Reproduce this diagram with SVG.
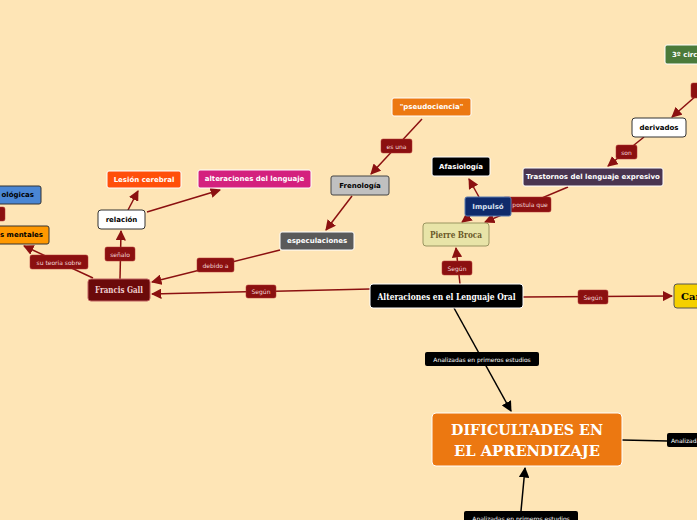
<svg xmlns="http://www.w3.org/2000/svg" width="697" height="520" viewBox="0 0 697 520">
<defs>
<marker id="ar" viewBox="0 0 10 10" refX="9" refY="5" markerWidth="7" markerHeight="7" orient="auto-start-reverse"><path d="M0,0L10,5L0,10z" fill="#8b1010"/></marker>
<marker id="ab" viewBox="0 0 10 10" refX="9" refY="5" markerWidth="7" markerHeight="7" orient="auto-start-reverse"><path d="M0,0L10,5L0,10z" fill="#000"/></marker>
<style>
.n{stroke:#fff;stroke-width:1}
.t{font-family:"DejaVu Sans",sans-serif;font-weight:bold;font-size:7px;text-anchor:middle;dominant-baseline:central}
.l{fill:#8b1010;stroke:#b03030;stroke-width:.5}
.lt{font-family:"DejaVu Sans",sans-serif;font-size:6px;fill:#f3d8d8;text-anchor:middle;dominant-baseline:central}
.c{stroke:#8b1010;stroke-width:1.5;fill:none}
.k{stroke:#000;stroke-width:1.5;fill:none}
.s{font-family:"DejaVu Serif",serif;font-weight:bold;text-anchor:middle;dominant-baseline:central}
</style>
</defs>
<rect width="697" height="520" fill="#fee5b6"/>
<g id="connectors">
<line class="c" x1="370" y1="289" x2="152" y2="294" marker-end="url(#ar)"/>
<line class="c" x1="460" y1="284" x2="456" y2="248" marker-end="url(#ar)"/>
<line class="c" x1="523" y1="297" x2="672" y2="296" marker-end="url(#ar)"/>
<line class="k" x1="454" y1="308" x2="511" y2="411" marker-end="url(#ab)"/>
<line class="k" x1="622" y1="440" x2="668" y2="441"/>
<line class="k" x1="521" y1="511" x2="525" y2="468" marker-end="url(#ab)"/>
<line class="c" x1="479" y1="197" x2="469" y2="179" marker-end="url(#ar)"/>
<line class="c" x1="470" y1="216" x2="462" y2="222" marker-end="url(#ar)"/>
<line class="c" x1="568" y1="187" x2="485" y2="222" marker-end="url(#ar)"/>
<line class="c" x1="644" y1="137" x2="608" y2="166" marker-end="url(#ar)"/>
<line class="c" x1="697" y1="95" x2="672" y2="117" marker-end="url(#ar)"/>
<line class="c" x1="422" y1="119" x2="371" y2="174" marker-end="url(#ar)"/>
<line class="c" x1="352" y1="196" x2="326" y2="230" marker-end="url(#ar)"/>
<line class="c" x1="280" y1="250" x2="152" y2="282" marker-end="url(#ar)"/>
<line class="c" x1="120" y1="279" x2="121" y2="231" marker-end="url(#ar)"/>
<line class="c" x1="128" y1="210" x2="138" y2="191" marker-end="url(#ar)"/>
<line class="c" x1="147" y1="212" x2="220" y2="190" marker-end="url(#ar)"/>
<line class="c" x1="93" y1="278" x2="24" y2="246" marker-end="url(#ar)"/>
</g>
<g id="labels">
<rect class="l" x="246" y="285" width="30" height="13" rx="2"/><text class="lt" x="261" y="291.5">Según</text>
<rect class="l" x="442" y="261" width="30" height="14" rx="2"/><text class="lt" x="457" y="268">Según</text>
<rect class="l" x="578" y="290" width="30" height="14" rx="2"/><text class="lt" x="593" y="297">Según</text>
<rect class="l" x="503" y="197" width="48" height="15" rx="2"/><text class="lt" x="530" y="204.5">postula que</text>
<rect class="l" x="616" y="145" width="21" height="14" rx="2"/><text class="lt" x="626.5" y="152">son</text>
<rect class="l" x="691" y="83" width="10" height="15" rx="2"/>
<rect class="l" x="381" y="139" width="31" height="14" rx="2"/><text class="lt" x="396.5" y="146">es una</text>
<rect class="l" x="197" y="258" width="37" height="14" rx="2"/><text class="lt" x="215.5" y="265">debido a</text>
<rect class="l" x="105" y="247" width="30" height="14" rx="2"/><text class="lt" x="120" y="254">señalo</text>
<rect class="l" x="30" y="255" width="58" height="14" rx="2"/><text class="lt" x="59" y="262">su teoria sobre</text>
<rect class="l" x="-5" y="207" width="10" height="14" rx="2"/>
<rect x="425" y="352" width="114" height="14" rx="2" fill="#000"/><text class="lt" x="482" y="359" style="fill:#fff">Analizadas en primeros estudios</text>
<rect x="667" y="433" width="40" height="14" rx="2" fill="#000"/><text class="lt" x="671" y="440" style="text-anchor:start;fill:#fff">Analizadas</text>
<rect x="464" y="511" width="114" height="14" rx="2" fill="#000"/><text class="lt" x="521" y="518" style="fill:#fff">Analizadas en primeros estudios</text>
</g>
<g id="main"><rect x="370" y="284" width="153" height="24" rx="3" fill="#000" class="n"/><text class="s" x="446.5" y="296" font-size="10" fill="#fff" textLength="138" lengthAdjust="spacingAndGlyphs">Alteraciones en el Lenguaje Oral</text></g>
<g id="gall"><rect x="88" y="279" width="62" height="22" rx="3" fill="#6b0a0a" stroke="#c06060"/><text class="s" x="119" y="290" font-size="9" fill="#f0d0d0" textLength="48" lengthAdjust="spacingAndGlyphs">Francis Gall</text></g>
<g id="broca"><rect x="423" y="223" width="66" height="23" rx="3" fill="#e8e4a8" stroke="#9a9560"/><text class="s" x="456" y="234.5" font-size="9" fill="#6b5a2a" textLength="52" lengthAdjust="spacingAndGlyphs">Pierre Broca</text></g>
<g id="carl"><rect x="674" y="284" width="40" height="24" rx="3" fill="#f5d000" stroke="#555"/><text class="s" x="681" y="296" font-size="10" fill="#000" style="text-anchor:start">Carl</text></g>
<g id="dificultades"><rect x="432" y="413" width="190" height="53" rx="4" fill="#ec7811" class="n"/><text class="s" x="527" y="430" font-size="15" fill="#fff" textLength="152" lengthAdjust="spacingAndGlyphs">DIFICULTADES EN</text><text class="s" x="527" y="451" font-size="15" fill="#fff" textLength="146" lengthAdjust="spacingAndGlyphs">EL APRENDIZAJE</text></g>
<g id="impulso"><rect x="465" y="197" width="46" height="19" rx="2" fill="#0f2a6b" stroke="#5a7ab0"/><text class="t" x="488" y="206.5" fill="#d8e0f0">Impulsó</text></g>
<g id="afasiologia"><rect x="432" y="157" width="58" height="19" rx="2" fill="#000" class="n"/><text class="t" x="461" y="166.5" fill="#fff">Afasiología</text></g>
<g id="trastornos"><rect x="523" y="168" width="140" height="18" rx="2" fill="#4a3550" class="n"/><text class="t" x="593" y="177" fill="#fff">Trastornos del lenguaje expresivo</text></g>
<g id="derivados"><rect x="632" y="118" width="54" height="19" rx="3" fill="#fff" stroke="#333"/><text class="t" x="659" y="127.5" fill="#000">derivados</text></g>
<g id="circ"><rect x="665" y="45" width="45" height="19" rx="2" fill="#4a7a3a" class="n"/><text class="t" x="672" y="54.5" fill="#fff" style="text-anchor:start">3º circ</text></g>
<g id="pseudo"><rect x="392" y="98" width="79" height="18" rx="2" fill="#ec7811" class="n"/><text class="t" x="431.5" y="107" fill="#fff">"pseudociencia"</text></g>
<g id="frenologia"><rect x="331" y="176" width="58" height="19" rx="2" fill="#c0c0c0" stroke="#444"/><text class="t" x="360" y="185.5" fill="#000">Frenología</text></g>
<g id="especulaciones"><rect x="280" y="232" width="74" height="18" rx="2" fill="#5a5a5a" class="n"/><text class="t" x="317" y="241" fill="#fff">especulaciones</text></g>
<g id="lesion"><rect x="107" y="171" width="74" height="17" rx="2" fill="#ff4f0a" class="n"/><text class="t" x="144" y="179.5" fill="#fff">Lesión cerebral</text></g>
<g id="alteraciones"><rect x="198" y="170" width="113" height="18" rx="2" fill="#d4207e" class="n"/><text class="t" x="254.5" y="179" fill="#fff">alteraciones del lenguaje</text></g>
<g id="relacion"><rect x="98" y="210" width="47" height="19" rx="3" fill="#fff" stroke="#333"/><text class="t" x="121.5" y="219.5" fill="#000">relación</text></g>
<g id="mentales"><rect x="-10" y="226" width="59" height="18" rx="2" fill="#ff9800" stroke="#333"/><text class="t" x="43" y="235" fill="#000" style="text-anchor:end">s mentales</text></g>
<g id="psicologicas"><rect x="-10" y="186" width="51" height="18" rx="2" fill="#4a86d4" stroke="#333"/><text class="t" x="34" y="195" fill="#000" style="text-anchor:end">ológicas</text></g>
</svg>
